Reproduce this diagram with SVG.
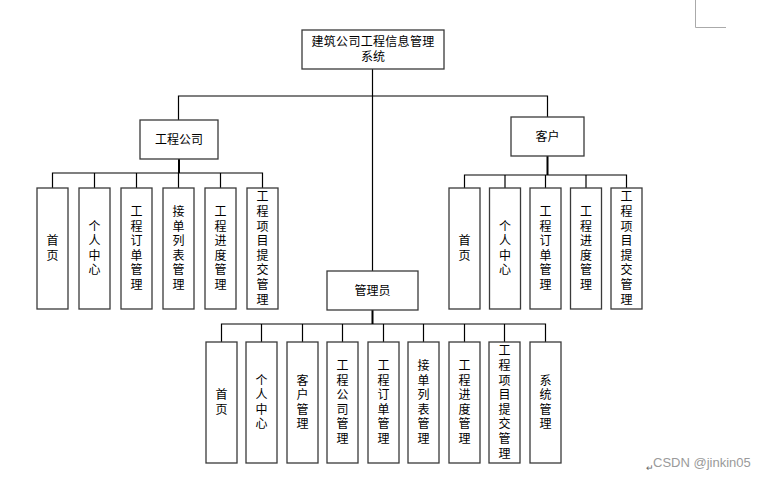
<svg xmlns="http://www.w3.org/2000/svg" width="766" height="479" viewBox="0 0 766 479">
<style>
.box{fill:#fff;stroke:#3a3a3a;stroke-width:1.3}
.ln{fill:none;stroke:#000;stroke-width:1.2}
.thk{fill:none;stroke:#000;stroke-width:2}
text{font-family:"Liberation Sans","Noto Sans CJK SC",sans-serif;font-size:12px;fill:#000;text-anchor:middle;dominant-baseline:central}
.wm{font-family:"Liberation Sans",Arial,sans-serif;font-size:13px;fill:#9a9a9a;text-anchor:start;dominant-baseline:auto}
</style>
<rect width="766" height="479" fill="#fff"/>
<path d="M695.5 0V27.5H726" fill="none" stroke="#aaa" stroke-width="1"/>
<g id="connectors">
<path class="ln" d="M372.5 69V271"/>
<path class="ln" d="M178.5 120V96H547.5V117"/>
<path class="thk" d="M179 159V173"/>
<path class="ln" d="M52.5 188V173H262.5V188M94.5 173V188M136.5 173V188M178.5 173V188M220.5 173V188"/>
<path class="thk" d="M547.5 156V175"/>
<path class="ln" d="M464.5 188V175H626.5V188M505 175V188M545.5 175V188M586 175V188"/>
<path class="thk" d="M372.5 310V324"/>
<path class="ln" d="M221.5 342V324H545.5V342M261.5 324V342M302.5 324V342M342.5 324V342M383.5 324V342M423.5 324V342M464.5 324V342M504.5 324V342"/>
</g>
<g id="root"><rect class="box" x="302" y="30" width="142" height="39"/><text x="373" y="42" letter-spacing="0.3">建筑公司工程信息管理</text><text x="373" y="57">系统</text></g>
<g id="company"><rect class="box" x="140" y="120" width="78" height="39"/><text x="179" y="139.5">工程公司</text></g>
<g id="customer"><rect class="box" x="511" y="117" width="73" height="39"/><text x="547.5" y="136.5">客户</text></g>
<g id="admin"><rect class="box" x="327" y="271" width="91" height="39"/><text x="372.5" y="290.5">管理员</text></g>

<g id="c1"><rect class="box" x="37" y="188" width="31" height="121"/><text><tspan x="52.5" y="241.2">首</tspan><tspan x="52.5" y="255.8">页</tspan></text></g>
<g id="c2"><rect class="box" x="79" y="188" width="31" height="121"/><text><tspan x="94.5" y="226.6">个</tspan><tspan x="94.5" y="241.2">人</tspan><tspan x="94.5" y="255.8">中</tspan><tspan x="94.5" y="270.4">心</tspan></text></g>
<g id="c3"><rect class="box" x="121" y="188" width="31" height="121"/><text><tspan x="136.5" y="212">工</tspan><tspan x="136.5" y="226.6">程</tspan><tspan x="136.5" y="241.2">订</tspan><tspan x="136.5" y="255.8">单</tspan><tspan x="136.5" y="270.4">管</tspan><tspan x="136.5" y="285">理</tspan></text></g>
<g id="c4"><rect class="box" x="163" y="188" width="31" height="121"/><text><tspan x="178.5" y="212">接</tspan><tspan x="178.5" y="226.6">单</tspan><tspan x="178.5" y="241.2">列</tspan><tspan x="178.5" y="255.8">表</tspan><tspan x="178.5" y="270.4">管</tspan><tspan x="178.5" y="285">理</tspan></text></g>
<g id="c5"><rect class="box" x="205" y="188" width="31" height="121"/><text><tspan x="220.5" y="212">工</tspan><tspan x="220.5" y="226.6">程</tspan><tspan x="220.5" y="241.2">进</tspan><tspan x="220.5" y="255.8">度</tspan><tspan x="220.5" y="270.4">管</tspan><tspan x="220.5" y="285">理</tspan></text></g>
<g id="c6"><rect class="box" x="247" y="188" width="31" height="121"/><text><tspan x="262.5" y="197.4">工</tspan><tspan x="262.5" y="212">程</tspan><tspan x="262.5" y="226.6">项</tspan><tspan x="262.5" y="241.2">目</tspan><tspan x="262.5" y="255.8">提</tspan><tspan x="262.5" y="270.4">交</tspan><tspan x="262.5" y="285">管</tspan><tspan x="262.5" y="299.6">理</tspan></text></g>

<g id="r1"><rect class="box" x="449" y="188" width="31" height="121"/><text><tspan x="464.5" y="241.2">首</tspan><tspan x="464.5" y="255.8">页</tspan></text></g>
<g id="r2"><rect class="box" x="489.5" y="188" width="31" height="121"/><text><tspan x="505" y="226.6">个</tspan><tspan x="505" y="241.2">人</tspan><tspan x="505" y="255.8">中</tspan><tspan x="505" y="270.4">心</tspan></text></g>
<g id="r3"><rect class="box" x="530" y="188" width="31" height="121"/><text><tspan x="545.5" y="212">工</tspan><tspan x="545.5" y="226.6">程</tspan><tspan x="545.5" y="241.2">订</tspan><tspan x="545.5" y="255.8">单</tspan><tspan x="545.5" y="270.4">管</tspan><tspan x="545.5" y="285">理</tspan></text></g>
<g id="r4"><rect class="box" x="570.5" y="188" width="31" height="121"/><text><tspan x="586" y="212">工</tspan><tspan x="586" y="226.6">程</tspan><tspan x="586" y="241.2">进</tspan><tspan x="586" y="255.8">度</tspan><tspan x="586" y="270.4">管</tspan><tspan x="586" y="285">理</tspan></text></g>
<g id="r5"><rect class="box" x="611" y="188" width="31" height="121"/><text><tspan x="626.5" y="197.4">工</tspan><tspan x="626.5" y="212">程</tspan><tspan x="626.5" y="226.6">项</tspan><tspan x="626.5" y="241.2">目</tspan><tspan x="626.5" y="255.8">提</tspan><tspan x="626.5" y="270.4">交</tspan><tspan x="626.5" y="285">管</tspan><tspan x="626.5" y="299.6">理</tspan></text></g>

<g id="a1"><rect class="box" x="206" y="342" width="31" height="121"/><text><tspan x="221.5" y="395.2">首</tspan><tspan x="221.5" y="409.8">页</tspan></text></g>
<g id="a2"><rect class="box" x="246" y="342" width="31" height="121"/><text><tspan x="261.5" y="380.6">个</tspan><tspan x="261.5" y="395.2">人</tspan><tspan x="261.5" y="409.8">中</tspan><tspan x="261.5" y="424.4">心</tspan></text></g>
<g id="a3"><rect class="box" x="287" y="342" width="31" height="121"/><text><tspan x="302.5" y="380.6">客</tspan><tspan x="302.5" y="395.2">户</tspan><tspan x="302.5" y="409.8">管</tspan><tspan x="302.5" y="424.4">理</tspan></text></g>
<g id="a4"><rect class="box" x="327" y="342" width="31" height="121"/><text><tspan x="342.5" y="366">工</tspan><tspan x="342.5" y="380.6">程</tspan><tspan x="342.5" y="395.2">公</tspan><tspan x="342.5" y="409.8">司</tspan><tspan x="342.5" y="424.4">管</tspan><tspan x="342.5" y="439">理</tspan></text></g>
<g id="a5"><rect class="box" x="368" y="342" width="31" height="121"/><text><tspan x="383.5" y="366">工</tspan><tspan x="383.5" y="380.6">程</tspan><tspan x="383.5" y="395.2">订</tspan><tspan x="383.5" y="409.8">单</tspan><tspan x="383.5" y="424.4">管</tspan><tspan x="383.5" y="439">理</tspan></text></g>
<g id="a6"><rect class="box" x="408" y="342" width="31" height="121"/><text><tspan x="423.5" y="366">接</tspan><tspan x="423.5" y="380.6">单</tspan><tspan x="423.5" y="395.2">列</tspan><tspan x="423.5" y="409.8">表</tspan><tspan x="423.5" y="424.4">管</tspan><tspan x="423.5" y="439">理</tspan></text></g>
<g id="a7"><rect class="box" x="449" y="342" width="31" height="121"/><text><tspan x="464.5" y="366">工</tspan><tspan x="464.5" y="380.6">程</tspan><tspan x="464.5" y="395.2">进</tspan><tspan x="464.5" y="409.8">度</tspan><tspan x="464.5" y="424.4">管</tspan><tspan x="464.5" y="439">理</tspan></text></g>
<g id="a8"><rect class="box" x="489" y="342" width="31" height="121"/><text><tspan x="504.5" y="351.4">工</tspan><tspan x="504.5" y="366">程</tspan><tspan x="504.5" y="380.6">项</tspan><tspan x="504.5" y="395.2">目</tspan><tspan x="504.5" y="409.8">提</tspan><tspan x="504.5" y="424.4">交</tspan><tspan x="504.5" y="439">管</tspan><tspan x="504.5" y="453.6">理</tspan></text></g>
<g id="a9"><rect class="box" x="530" y="342" width="31" height="121"/><text><tspan x="545.5" y="380.6">系</tspan><tspan x="545.5" y="395.2">统</tspan><tspan x="545.5" y="409.8">管</tspan><tspan x="545.5" y="424.4">理</tspan></text></g>

<text class="wm" x="646" y="471" style="font-size:9px;fill:#666">↵</text>
<text class="wm" x="653" y="467">CSDN @jinkin05</text>
</svg>
